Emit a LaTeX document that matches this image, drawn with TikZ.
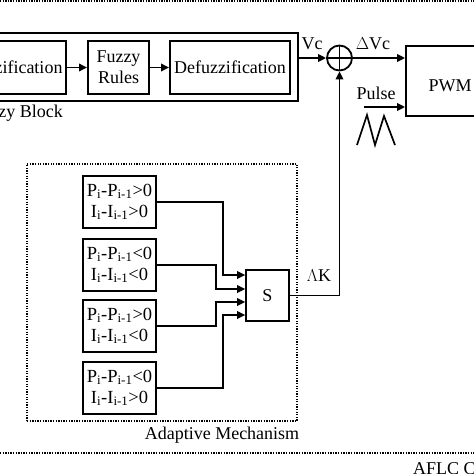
\documentclass[tikz,border=0pt]{standalone}
\usepackage{fontspec}
\setmainfont{Liberation Serif}
\usetikzlibrary{arrows.meta,calc}
\begin{document}
\begin{tikzpicture}[x=1pt,y=-1pt,
  every node/.style={font=\fontsize{18}{21}\selectfont},
  blk/.style={draw,line width=2pt,inner sep=0pt,align=center},
  cond/.style={draw,line width=2pt,inner sep=0pt,align=center,minimum width=73pt,minimum height=52pt,font=\fontsize{18.5}{21}\selectfont},
  plainbox/.style={draw,line width=1.6pt,inner sep=0pt},
  arr/.style={line width=1.8pt,-{Triangle[length=8pt,width=7.5pt]}},
  dots/.style={line width=1.4pt,dash pattern=on 1.3pt off 1.3pt},
  lbl/.style={inner sep=0pt}]
\useasboundingbox (0,0) rectangle (474,474);
% frame lines
\coordinate (tl) at (0,1); \coordinate (tr) at (474,1);
\coordinate (bl) at (0,453); \coordinate (br) at (474,453);
\draw[dots] (tl) -- (tr);
\draw[dots] (bl) -- (br);
% fuzzy block
\node[blk,minimum width=308pt,minimum height=68pt] (fb) at (144,67) {};
\node[blk,minimum width=102pt,minimum height=53pt] (fuz) at (15,67.5) {Fuzzification};
\node[blk,minimum width=61pt,minimum height=53pt] (rules) at (118.5,67.5) {Fuzzy\\Rules};
\node[blk,minimum width=120pt,minimum height=53pt] (defuz) at (230,67.5) {Defuzzification};
\node[lbl,anchor=base east] (fbl) at (63,117) {Fuzzy Block};
\draw[arr] (fuz.east) -- (rules.west);
\draw[arr] (rules.east) -- (defuz.west);
% summing junction
\node[circle,draw,line width=1.8pt,minimum size=25pt,inner sep=0pt] (sum) at (339.5,58) {};
\draw[line width=1.5pt] (sum.north) -- (sum.south) (sum.west) -- (sum.east);
\draw[arr] (fb.east |- sum.west) -- (sum.west);
\node[lbl] (vc) at (312,44) {Vc};
% PWM
\node[plainbox,line width=1.8pt,minimum width=94pt,minimum height=70pt] (pwm) at (453,81) {};
\node[lbl] (pwml) at (450,86) {PWM};
\draw[arr] (sum.east) -- (pwm.west |- sum.east);
\node[lbl] (dvc) at (373,44) {$\Delta$Vc};
\coordinate (ps) at (364,107);
\draw[arr] (ps) -- (pwm.west |- ps);
\node[lbl] (pulse) at (376,93) {Pulse};
\coordinate (w0) at (357,145);
\coordinate (w1) at (367,115);
\coordinate (w2) at (375,145);
\coordinate (w3) at (384,116);
\coordinate (w4) at (395,145);
\draw[line width=1.7pt] (w0) -- (w1) -- (w2) -- (w3) -- (w4);
% adaptive mechanism
\node[dots,draw,minimum width=270pt,minimum height=257pt,inner sep=0pt] (am) at (162,292.5) {};
\node[lbl] (aml) at (222,435) {Adaptive Mechanism};
\node[cond] (c1) at (119.5,202) {P\textsubscript{i}-P\textsubscript{i-1}>0\\I\textsubscript{i}-I\textsubscript{i-1}>0};
\node[cond] (c2) at (119.5,265) {P\textsubscript{i}-P\textsubscript{i-1}<0\\I\textsubscript{i}-I\textsubscript{i-1}<0};
\node[cond] (c3) at (119.5,326) {P\textsubscript{i}-P\textsubscript{i-1}>0\\I\textsubscript{i}-I\textsubscript{i-1}<0};
\node[cond] (c4) at (119.5,388) {P\textsubscript{i}-P\textsubscript{i-1}<0\\I\textsubscript{i}-I\textsubscript{i-1}>0};
\node[plainbox,minimum width=43pt,minimum height=51pt] (S) at (267.5,295.5) {S};
\draw[arr] (c1.east) -- ++(66,0) |- ([yshift=20.5pt]S.west);
\draw[arr] (c2.east) -- ++(59,0) |- ([yshift=6.5pt]S.west);
\draw[arr] (c3.east) -- ++(59,0) |- ([yshift=-6.5pt]S.west);
\draw[arr] (c4.east) -- ++(66,0) |- ([yshift=-19.5pt]S.west);
\draw[arr] (S.east) -| (sum.south);
\node[lbl] (ak) at (319,276) {$\Lambda$K};
% caption
\node[lbl,anchor=base west] (aflc) at (413,474) {AFLC Controller};
\end{tikzpicture}
\end{document}
